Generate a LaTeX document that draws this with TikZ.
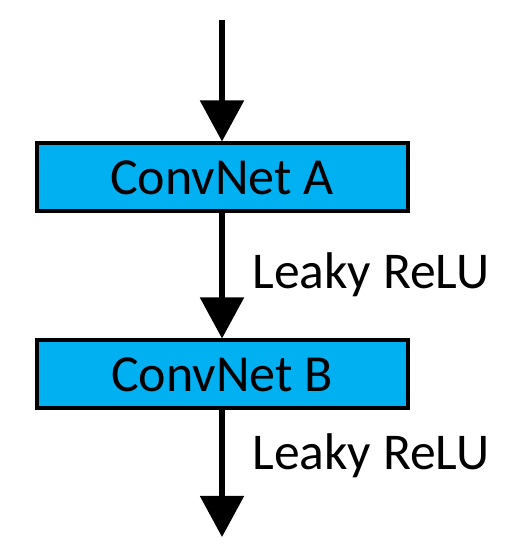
\documentclass[tikz,border=0pt]{standalone}
\usepackage{fontspec}
\setmainfont{Carlito}
\usetikzlibrary{arrows.meta}
\definecolor{netblue}{HTML}{00B0F0}
\tikzset{
	convbox/.style={draw=black, fill=netblue, line width=2pt, minimum width=185.5pt, minimum height=34pt, inner sep=0pt, font=\fontsize{26}{31}\selectfont},
	flow/.style={line width=2.6pt, -{Triangle[width=21.5pt,length=20.5pt]}},
	actlabel/.style={anchor=base west, inner sep=0pt, font=\fontsize{25.8}{31}\selectfont}
}
\begin{document}
\begin{tikzpicture}[x=0.5pt,y=0.5pt]
			\useasboundingbox (0,0) rectangle (518,550);
			\coordinate (input) at (222,530);
			\coordinate (output) at (222,13);
			\node[convbox] (netA) at (222,372.5) {ConvNet A};
			\node[convbox] (netB) at (222,175.5) {ConvNet B};
			\draw[flow] (input) -- (netA.north);
			\draw[flow] (netA.south) -- (netB.north);
			\draw[flow] (netB.south) -- (output);
			\node[actlabel] (reluA) at (252,261) {Leaky ReLU};
			\node[actlabel] (reluB) at (252,80) {Leaky ReLU};
		\end{tikzpicture}
\end{document}
